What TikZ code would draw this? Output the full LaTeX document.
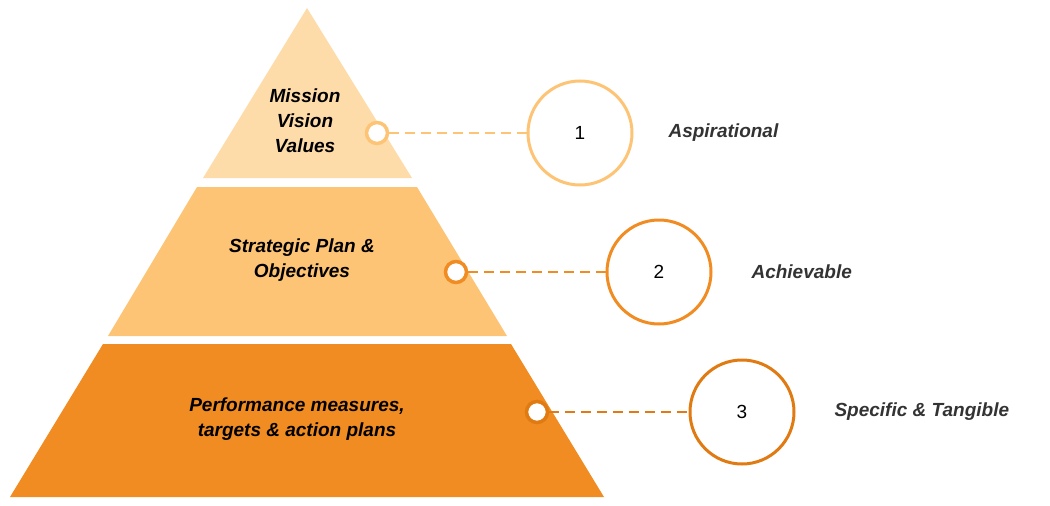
\documentclass[tikz,border=0pt]{standalone}
\usepackage{fontspec}
\setmainfont{Liberation Sans}
\usetikzlibrary{positioning}
\definecolor{tierA}{HTML}{FDDCAA}
\definecolor{tierB}{HTML}{FDC476}
\definecolor{tierC}{HTML}{F08C22}
\definecolor{tierD}{HTML}{E07A12}
\definecolor{labelgray}{HTML}{333333}
\begin{document}
\begin{tikzpicture}[x=1pt,y=-1pt,
    tiertext/.style={font=\fontsize{19}{25}\selectfont\bfseries\itshape, align=center, text=black},
    dot/.style={circle, draw, line width=3.5pt, fill=white, minimum size=21pt, inner sep=0pt},
    ring/.style={circle, draw, line width=3pt, fill=white, minimum size=104pt, inner sep=0pt, font=\fontsize{19}{23}\selectfont},
    link/.style={dashed, dash pattern=on 10pt off 6pt, line width=2pt},
    tag/.style={font=\fontsize{19}{23}\selectfont\bfseries\itshape, text=labelgray, anchor=west}]
\useasboundingbox (0,0) rectangle (1050,506);
% pyramid tiers
\fill[tierA] (307,8) -- (412,178) -- (203,178) -- cycle;
\fill[tierB] (197,187) -- (417,187) -- (507,336) -- (108,336) -- cycle;
\fill[tierC] (103,344) -- (511,344) -- (604,497) -- (10,497) -- cycle;
\node[tiertext] (mission) at (305,121) {Mission\\Vision\\Values};
\node[tiertext] (strategic) at (302,260) {Strategic Plan \&\\Objectives};
\node[tiertext] (performance) at (297,419) {Performance measures,\\targets \& action plans};
% dots and rings
\node[dot, draw=tierB] (dotA) at (377,133) {};
\node[dot, draw=tierC] (dotB) at (456,272) {};
\node[dot, draw=tierD] (dotC) at (537,412) {};
\node[ring, draw=tierB] (ringA) at (580,133) {1};
\node[ring, draw=tierC] (ringB) at (659,272) {2};
\node[ring, draw=tierD] (ringC) at (742,412) {3};
\draw[link, tierB] (dotA) -- (ringA);
\draw[link, tierC] (dotB) -- (ringB);
\draw[link, tierD] (dotC) -- (ringC);
% labels
\node[tag] (aspire) at (665,133) {Aspirational};
\node[tag] (achieve) at (748,272) {Achievable};
\node[tag] (specific) at (831,412) {Specific \& Tangible};
\end{tikzpicture}
\end{document}
